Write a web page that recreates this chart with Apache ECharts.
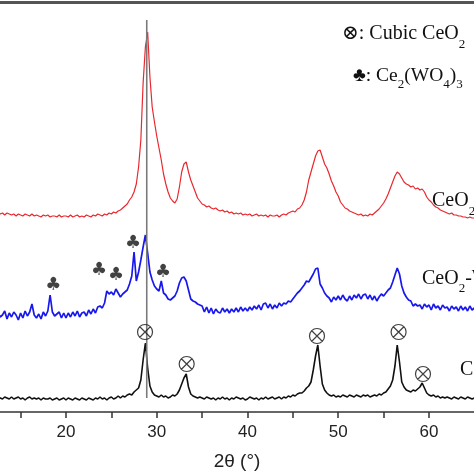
<!DOCTYPE html>
<html>
<head>
<meta charset="utf-8">
<script src="https://cdn.jsdelivr.net/npm/echarts@6/dist/echarts.min.js"></script>
<style>html,body{margin:0;padding:0;background:#fff;}#c{width:474px;height:474px;}</style>
</head>
<body>
<div id="c"></div>
<script>
// 2θ sampling grid (degrees): start and step of the hand-read samples
const ANGLE_START = 12;
const ANGLE_STEP = 0.25;

// Intensities (arbitrary units, offset traces), one value per 0.25°, 12.00 .. 65.00
const redCeO2 = [
/*12*/199,198,200,198, /*13*/199,197,199,198, /*14*/197,198,196,198, /*15*/197,196,198,197,
/*16*/196,198,196,197, /*17*/196,195,197,196, /*18*/197,195,196,196, /*19*/195,197,195,196,
/*20*/196,195,197,195, /*21*/196,197,195,196, /*22*/195,197,196,195, /*23*/197,196,198,197,
/*24*/196,198,197,199, /*25*/198,200,199,201, /*26*/202,204,206,208, /*27*/212,215,220,228,
/*28*/245,272,329,365, /*29*/380,335,305,290, /*30*/276,264,252,238, /*31*/228,220,214,211,
/*32*/209,213,225,240, /*33*/248,250,240,232, /*34*/226,220,214,211, /*35*/208,207,205,206,
/*36*/204,203,204,202, /*37*/201,202,200,201, /*38*/199,200,198,199, /*39*/198,199,197,198,
/*40*/197,198,196,197, /*41*/198,196,197,196, /*42*/197,195,197,196, /*43*/196,197,195,197,
/*44*/198,197,199,200, /*45*/201,200,203,204, /*46*/207,212,220,232, /*47*/240,248,256,261,
/*48*/262,255,248,244, /*49*/238,231,226,220, /*50*/216,210,207,204, /*51*/203,201,200,199,
/*52*/198,197,198,196, /*53*/197,196,198,197, /*54*/199,201,203,206, /*55*/209,213,218,224,
/*56*/230,236,240,238, /*57*/234,230,228,227, /*58*/225,226,223,224, /*59*/222,223,220,215,
/*60*/212,210,207,205, /*61*/204,202,201,200, /*62*/199,198,199,197, /*63*/197,196,196,195,
/*64*/195,194,195,194, /*65*/194
];
const blueCeO2WO3 = [
/*12*/99,93,100,95, /*13*/97,101,93,99, /*14*/95,100,97,92, /*15*/99,94,101,96,
/*16*/100,108,97,94, /*17*/98,93,100,96, /*18*/101,117,100,96, /*19*/98,100,94,99,
/*20*/94,99,95,100, /*21*/96,101,95,99, /*22*/100,96,102,98, /*23*/103,99,105,106,
/*24*/104,109,121,118, /*25*/120,117,123,119, /*26*/115,118,120,122, /*27*/128,136,160,131,
/*28*/140,152,165,177, /*29*/159,140,132,126, /*30*/123,121,131,119, /*31*/117,113,112,114,
/*32*/116,121,129,134, /*33*/135,131,122,113, /*34*/111,110,108,107, /*35*/106,100,105,99,
/*36*/104,98,103,100, /*37*/99,104,100,103, /*38*/99,103,100,104, /*39*/100,105,101,104,
/*40*/101,105,102,106, /*41*/103,107,102,108, /*42*/109,104,108,103, /*43*/107,104,109,106,
/*44*/109,108,111,110, /*45*/113,116,119,121, /*46*/124,127,131,130, /*47*/134,138,143,144,
/*48*/128,124,119,116, /*49*/114,110,115,112, /*50*/116,112,117,113, /*51*/111,116,112,117,
/*52*/114,118,113,117, /*53*/118,113,117,112, /*54*/116,111,115,118, /*55*/116,119,122,124,
/*56*/130,137,144,138, /*57*/126,119,115,112, /*58*/111,106,108,106, /*59*/107,103,108,105,
/*60*/107,102,108,104, /*61*/106,102,107,104, /*62*/105,101,106,103, /*63*/105,101,106,102,
/*64*/105,101,106,102, /*65*/104
];
const blackCeO2 = [
/*12*/15,13,15,14, /*13*/13,15,14,13, /*14*/15,13,14,15, /*15*/13,14,12,14,
/*16*/15,13,14,13, /*17*/14,12,14,13, /*18*/13,14,12,13, /*19*/14,12,13,14,
/*20*/12,14,13,12, /*21*/14,13,12,14, /*22*/13,12,14,13, /*23*/12,14,13,15,
/*24*/13,14,12,14, /*25*/15,13,14,16, /*26*/14,16,15,17, /*27*/18,17,20,22,
/*28*/24,32,52,69, /*29*/44,26,20,17, /*30*/16,15,17,15, /*31*/16,14,15,17,
/*32*/16,18,22,28, /*33*/34,38,25,18, /*34*/16,15,14,15, /*35*/14,13,15,14,
/*36*/13,14,12,14, /*37*/13,15,13,14, /*38*/12,14,13,15, /*39*/14,13,14,12,
/*40*/13,15,14,13, /*41*/14,12,14,13, /*42*/15,13,14,15, /*43*/13,14,15,13,
/*44*/15,14,16,15, /*45*/17,16,18,19, /*46*/19,21,24,26, /*47*/30,42,56,67,
/*48*/46,28,22,19, /*49*/17,16,17,15, /*50*/16,15,17,16, /*51*/15,17,16,15,
/*52*/17,16,15,17, /*53*/16,17,15,16, /*54*/17,16,18,17, /*55*/19,20,23,26,
/*56*/32,46,67,50, /*57*/30,25,22,21, /*58*/20,22,21,23, /*59*/25,29,24,19,
/*60*/17,16,17,15, /*61*/16,14,15,14, /*62*/15,14,13,15, /*63*/14,13,15,14,
/*64*/13,15,14,13, /*65*/14
];

// Cubic CeO2 reflection markers (⊗)
const cubicX = [28.71, 33.3, 47.66, 56.65, 59.34];
const cubicY = [80, 48, 76, 80, 38];
// Ce2(WO4)3 reflection markers (♣)
const clubX = [18.6, 23.64, 25.51, 27.39, 30.69];
const clubY = [127, 142, 137, 169, 140];
// reference vertical line
const refLineX = 28.9;
const refLineY = [14, 392];

// x-axis: visible window and tick values
const xMin = 12.73, xMax = 64.96;
const majorTicks = [20, 30, 40, 50, 60];
const allTicks = [15, 20, 25, 30, 35, 40, 45, 50, 55, 60];

function pairs(vals) {
  return vals.map((v, i) => [ANGLE_START + i * ANGLE_STEP, v]);
}

const serif = 'Liberation Serif, DejaVu Serif, serif';
const richSet = (main, sub, shift) => ({
  a: { fontSize: main, fontFamily: serif, fill: '#111', lineHeight: 12 + shift * 2 },
  s: { fontSize: sub, fontFamily: serif, fill: '#111', lineHeight: 12, padding: [shift * 2, 0, 0, 0] }
});

const chart = echarts.init(document.getElementById('c'), null, { renderer: 'canvas' });
chart.setOption({
  animation: false,
  backgroundColor: '#fff',
  grid: { left: 0, right: 0, top: 2, bottom: 62, containLabel: false, outerBoundsMode: 'none' },
  xAxis: [{
    type: 'value', min: xMin, max: xMax, position: 'bottom',
    axisLine: { onZero: false, lineStyle: { color: '#333', width: 1.6 } },
    axisTick: { show: true, inside: false, length: 6, customValues: allTicks, lineStyle: { color: '#333', width: 1.5 } },
    splitLine: { show: false },
    axisLabel: { fontSize: 17, color: '#222', margin: 12, customValues: majorTicks, fontFamily: 'Liberation Sans, Arial, sans-serif' },
    name: '2θ (°)', nameLocation: 'middle', nameGap: 40,
    nameTextStyle: { fontSize: 19, color: '#222', fontFamily: 'Liberation Sans, Arial, sans-serif' }
  }, {
    type: 'value', min: xMin, max: xMax, position: 'top',
    axisLine: { onZero: false, lineStyle: { color: '#555', width: 3 } },
    axisTick: { show: false }, axisLabel: { show: false }, splitLine: { show: false }
  }],
  yAxis: { type: 'value', min: 0, max: 410, show: false, splitLine: { show: false } },
  series: [
    { type: 'line', data: pairs(redCeO2), symbol: 'none', lineStyle: { color: '#e8282e', width: 1.2 }, z: 2 },
    { type: 'line', data: pairs(blueCeO2WO3), symbol: 'none', lineStyle: { color: '#1818ee', width: 1.7 }, z: 2 },
    { type: 'line', data: pairs(blackCeO2), symbol: 'none', lineStyle: { color: '#111', width: 1.6 }, z: 2 },
    { type: 'line', data: refLineY.map(v => [refLineX, v]), symbol: 'none', lineStyle: { color: '#7a7a7a', width: 1.6 }, z: 3 },
    { type: 'scatter', data: cubicX.map((x, i) => [x, cubicY[i]]),
      symbol: 'path://M10,0A10,10,0,1,1,10,20A10,10,0,1,1,10,0ZM3,3L17,17M17,3L3,17',
      symbolSize: 15, itemStyle: { color: 'none', borderColor: '#111', borderWidth: 1.2 }, z: 4 },
    { type: 'scatter', data: clubX.map((x, i) => [x, clubY[i]]), symbolSize: 1,
      itemStyle: { color: 'transparent' },
      label: { show: true, position: 'inside', formatter: '♣', fontSize: 18, color: '#111', fontFamily: 'DejaVu Sans' }, z: 4 }
  ],
  graphic: [
    { type: 'text', x: 342, y: 34, style: { text: '{a|⊗: Cubic CeO}{s|2}', rich: richSet(20, 13, 11), verticalAlign: 'middle', align: 'left' } },
    { type: 'text', x: 353, y: 76, style: { text: '{a|♣: Ce}{s|2}{a|(WO}{s|4}{a|)}{s|3}', rich: richSet(19.5, 13, 9), verticalAlign: 'middle', align: 'left' } },
    { type: 'text', x: 432, y: 201, style: { text: '{a|CeO}{s|2}', rich: richSet(20, 13, 11), verticalAlign: 'middle', align: 'left' } },
    { type: 'text', x: 422, y: 279, style: { text: '{a|CeO}{s|2}{a|-WO}{s|3}', rich: richSet(20, 13, 10), verticalAlign: 'middle', align: 'left' } },
    { type: 'text', x: 460, y: 370, style: { text: '{a|CeO}{s|2}', rich: richSet(20, 13, 10), verticalAlign: 'middle', align: 'left' } }
  ]
});
</script>
</body>
</html>
